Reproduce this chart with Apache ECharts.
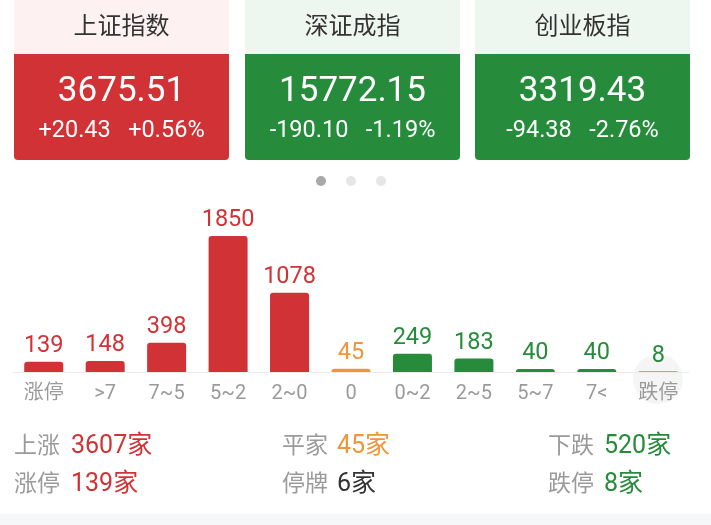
<!DOCTYPE html>
<html><head><meta charset="utf-8">
<script src="https://cdn.jsdelivr.net/npm/echarts@6/dist/echarts.min.js"></script>
<style>html,body{margin:0;padding:0;background:#fff;}#c{width:711px;height:525px;}</style>
</head><body><div id="c"></div>
<script>
// ---- data ----
const indexNames = ['上证指数', '深证成指', '创业板指'];
const indexValues = ['3675.51', '15772.15', '3319.43'];
const indexChanges = ['+20.43', '-190.10', '-94.38'];
const indexPcts = ['+0.56%', '-1.19%', '-2.76%'];
const categories = ['涨停', '>7', '7~5', '5~2', '2~0', '0', '0~2', '2~5', '5~7', '7<', '跌停'];
const counts = [139, 148, 398, 1850, 1078, 45, 249, 183, 40, 40, 8];
const statLabels = [['上涨', '平家', '下跌'], ['涨停', '停牌', '跌停']];
const statValues = [[3607, 45, 520], [139, 6, 8]];

// ---- styles ----
const RED = '#d13236', GREEN = '#268c3b', ORANGE = '#f0953a', DARK = '#333';
const FONT = 'Roboto, "Noto Sans CJK SC", sans-serif';
const barColor = i => i < 5 ? RED : (i === 5 ? ORANGE : GREEN);
const statColors = [[RED, ORANGE, GREEN], [RED, DARK, GREEN]];

const graphics = [];
const cardX = [14, 245, 475], cardW = 215;
indexNames.forEach((n, i) => {
  const up = indexChanges[i][0] === '+';
  const x = cardX[i];
  graphics.push({type:'rect', shape:{x:x, y:0, width:cardW, height:160, r:[0,0,4,4]}, style:{fill: up ? RED : GREEN}});
  graphics.push({type:'rect', shape:{x:x, y:0, width:cardW, height:54}, style:{fill: up ? '#fdf1f2' : '#edf7ef'}});
  graphics.push({type:'text', x:x+cardW/2, y:28, style:{text:n, fill:'#333', font:'24px ' + FONT, align:'center', verticalAlign:'middle'}});
  graphics.push({type:'text', x:x+cardW/2, y:92, style:{text:indexValues[i], fill:'#fff', font:'35px ' + FONT, align:'center', verticalAlign:'middle'}});
  graphics.push({type:'text', x:x+cardW/2, y:131, style:{text:indexChanges[i] + '   ' + indexPcts[i], fill:'#fff', font:'23.5px ' + FONT, align:'center', verticalAlign:'middle'}});
});
[321, 351, 381].forEach((cx, i) => {
  graphics.push({type:'circle', shape:{cx:cx, cy:181, r:5}, style:{fill: i === 0 ? '#a9a9a9' : '#e6e6e6'}});
});
// faint overlay button
graphics.push({type:'circle', shape:{cx:658, cy:379, r:25}, style:{fill:'rgba(200,200,200,0.18)'}, z:-1});
// stats
const colX = [[14, 71], [282, 337], [548, 604]];
const rowY = [447, 485];
statLabels.forEach((row, r) => row.forEach((lab, c) => {
  graphics.push({type:'text', x:colX[c][0], y:rowY[r], style:{text:lab, fill:'#9a9a9a', font:'23px ' + FONT, verticalAlign:'middle'}});
  graphics.push({type:'text', x:colX[c][1], y:rowY[r], style:{text:statValues[r][c] + '家', fill:statColors[r][c], font:'25px ' + FONT, verticalAlign:'middle'}});
}));
graphics.push({type:'rect', shape:{x:0, y:514, width:711, height:11}, style:{fill:'#f6f7f9'}, z:-2});

const chart = echarts.init(document.getElementById('c'), null, {renderer:'canvas'});
chart.setOption({
  animation:false,
  backgroundColor:'#fff',
  grid:{left:13, width:676, top:236, height:136, containLabel:false},
  xAxis:{type:'category', data:categories,
    axisLine:{lineStyle:{color:'#ececec', width:1}}, axisTick:{show:false},
    axisLabel:{color:'#9a9a9a', fontSize:20, fontFamily:FONT, margin:12, interval:0}},
  yAxis:{type:'value', min:0, max:1850, show:false, splitLine:{show:false}},
  series:[{type:'bar', barWidth:39,
    data: counts.map((v, i) => ({value:v, itemStyle:{color:barColor(i), borderRadius:[3,3,0,0]},
      label:{color:barColor(i)}})),
    label:{show:true, position:'top', distance:4, fontSize:23.5, fontFamily:FONT}}],
  graphic: graphics
});
</script></body></html>
